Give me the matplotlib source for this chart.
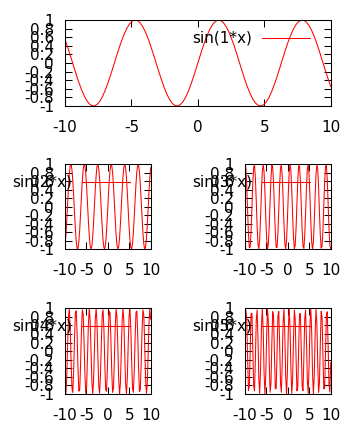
import numpy as np
import matplotlib
matplotlib.use("Agg")
import matplotlib.pyplot as plt
from matplotlib.lines import Line2D

# data
frequencies = [1, 2, 3, 4, 5]
legend_labels = ["sin(1*x)", "sin(2*x)", "sin(3*x)", "sin(4*x)", "sin(5*x)"]
x_range = (-10, 10)
n_samples = 100
xticks = [-10, -5, 0, 5, 10]
yticks = [-1, -0.8, -0.6, -0.4, -0.2, 0, 0.2, 0.4, 0.6, 0.8, 1]
ytick_labels = ["-1", "-0.8", "-0.6", "-0.4", "-0.2", "0", "0.2", "0.4", "0.6", "0.8", "1"]

W, H = 360, 432
fig = plt.figure(figsize=(W / 100, H / 100), dpi=100)
plt.rcParams['font.family'] = ['DejaVu Sans']
FS = 11

# axes boxes in pixels: (left, top, right, bottom)
boxes = [
    (65, 20, 330.7, 106),
    (65, 164, 150.7, 249.3),
    (245, 164, 330.7, 249.3),
    (65, 308.3, 150.7, 394),
    (245, 308.3, 330.7, 394),
]

xs = np.linspace(x_range[0], x_range[1], n_samples)

for k, lab, (l, t, r, b) in zip(frequencies, legend_labels, boxes):
    ax = fig.add_axes([l / W, 1 - b / H, (r - l) / W, (b - t) / H])
    ax.plot(xs, np.sin(k * xs), color='#ff0000', lw=0.75)
    ax.set_xlim(*x_range)
    ax.set_ylim(-1, 1)
    ax.set_xticks(xticks)
    ax.set_xticklabels([str(v) for v in xticks])
    ax.set_yticks(yticks)
    ax.set_yticklabels(ytick_labels)
    ax.tick_params(direction='in', length=5, width=0.75, top=True, right=True,
                   labelsize=FS, colors='black')
    ax.tick_params(axis='x', pad=10)
    ax.tick_params(axis='y', pad=8)
    for s in ax.spines.values():
        s.set_linewidth(0.75)
        s.set_color('black')
    # gnuplot-style key: text then sample line, top-right inside
    aw = r - l
    ah = b - t
    ky = 1 - 18 / ah
    ax.text(1 - 78.7 / aw, ky, lab, transform=ax.transAxes, ha='right', va='center',
            fontsize=FS, color='black')
    ax.add_line(Line2D([1 - 68.7 / aw, 1 - 20.7 / aw], [ky, ky], transform=ax.transAxes,
                       color='#ff0000', lw=0.75))

fig.savefig("out.png", dpi=100, facecolor='white')
